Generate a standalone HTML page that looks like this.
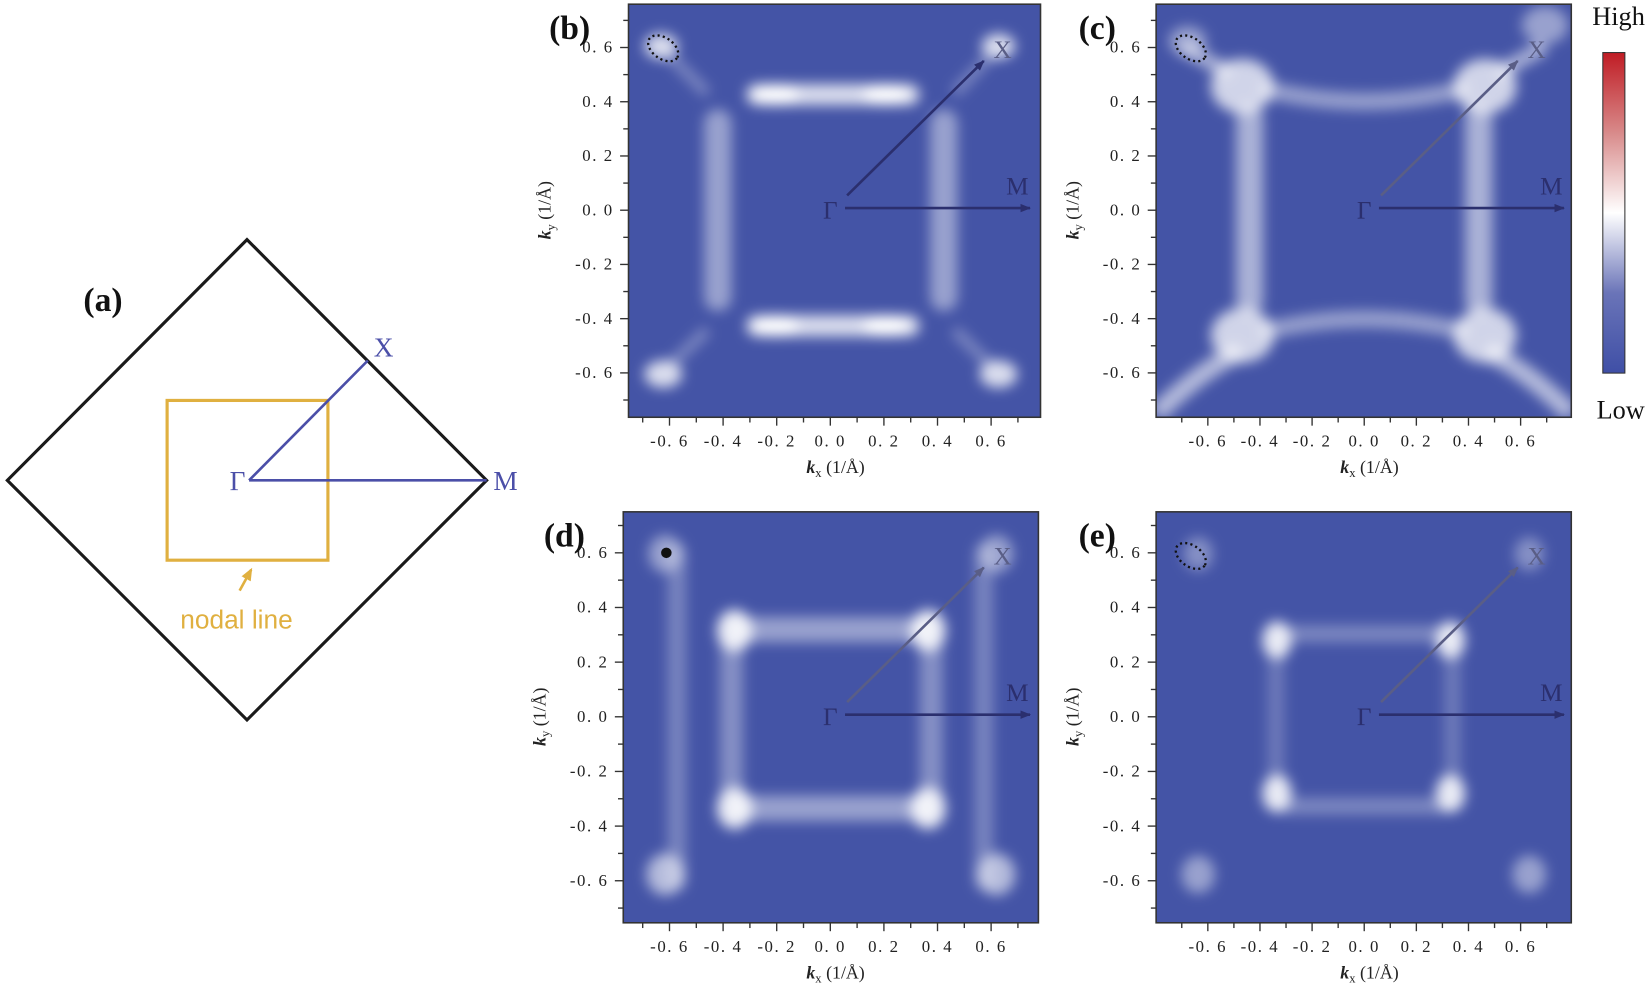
<!DOCTYPE html>
<html><head><meta charset="utf-8">
<style>html,body{margin:0;padding:0;background:#fff;}svg{display:block;}</style>
</head><body>
<svg id="s" width="1648" height="989" viewBox="0 0 1568 941" preserveAspectRatio="none" xmlns="http://www.w3.org/2000/svg" font-family="Liberation Serif, serif">
<defs>
<filter id="bl" x="-50%" y="-50%" width="200%" height="200%"><feGaussianBlur stdDeviation="6"/></filter>
<linearGradient id="cb" x1="0" y1="1" x2="0" y2="0">
<stop offset="0" stop-color="#3f4fa6"/><stop offset="0.25" stop-color="#6a74b8"/><stop offset="0.5" stop-color="#ffffff"/><stop offset="0.75" stop-color="#d88a8a"/><stop offset="1" stop-color="#c01c24"/></linearGradient>
<marker id="ah" markerWidth="10" markerHeight="8" refX="9" refY="4" orient="auto" markerUnits="userSpaceOnUse"><path d="M0,0 L10,4 L0,8 z" fill="#2b2f6e"/></marker>
<marker id="ah2" markerWidth="10" markerHeight="8" refX="9" refY="4" orient="auto" markerUnits="userSpaceOnUse"><path d="M0,0 L10,4 L0,8 z" fill="#5a5e86"/></marker>
<marker id="ag" markerWidth="12" markerHeight="10" refX="10" refY="5" orient="auto" markerUnits="userSpaceOnUse"><path d="M0,0 L12,5 L0,10 z" fill="#e0b040"/></marker>
</defs>

<g>
<polygon points="235,228 463,457 235,685 7,457" fill="none" stroke="#1a1a1a" stroke-width="3"/>
<rect x="159" y="381" width="153" height="152" fill="none" stroke="#e0b040" stroke-width="3"/>
<line x1="237" y1="457" x2="463" y2="457" stroke="#4b4fa8" stroke-width="2.5"/>
<line x1="237" y1="457" x2="350" y2="343" stroke="#4b4fa8" stroke-width="2.5"/>
<text x="226" y="466" font-size="26" fill="#4b4fa8" text-anchor="middle">Γ</text>
<text x="365" y="339" font-size="26" fill="#4b4fa8" text-anchor="middle">X</text>
<text x="481" y="466" font-size="26" fill="#4b4fa8" text-anchor="middle">M</text>
<text x="98" y="296" font-size="32" font-weight="bold" fill="#111" text-anchor="middle">(a)</text>
<line x1="228" y1="562" x2="239" y2="542" stroke="#e0b040" stroke-width="2.5" marker-end="url(#ag)"/>
<text x="225" y="598" font-size="25" fill="#e0b040" text-anchor="middle" font-family="Liberation Sans, sans-serif">nodal line</text>
</g>

<g transform="translate(598,4)"><rect width="392" height="393" fill="#4454a6"/>
<g filter="url(#bl)" fill="#fff">
<rect x="112" y="76" width="165" height="20" rx="10" opacity="0.8"/>
<rect x="112" y="296" width="165" height="20" rx="10" opacity="0.8"/>
<ellipse cx="140" cy="86" rx="22" ry="10"/><ellipse cx="245" cy="86" rx="22" ry="10"/>
<ellipse cx="140" cy="306" rx="22" ry="10"/><ellipse cx="245" cy="306" rx="22" ry="10"/>
<rect x="72" y="100" width="26" height="192" rx="13" opacity="0.45"/>
<rect x="287" y="100" width="26" height="192" rx="13" opacity="0.45"/>
<ellipse cx="31" cy="40" rx="16" ry="12" opacity="0.8"/><ellipse cx="352" cy="40" rx="16" ry="12" opacity="0.8"/>
<ellipse cx="33" cy="352" rx="18" ry="13" opacity="0.8"/><ellipse cx="352" cy="352" rx="18" ry="13" opacity="0.8"/>
<line x1="35" y1="45" x2="75" y2="85" stroke="#fff" stroke-width="10" opacity="0.3"/>
<line x1="348" y1="45" x2="310" y2="85" stroke="#fff" stroke-width="10" opacity="0.3"/>
<line x1="38" y1="345" x2="75" y2="310" stroke="#fff" stroke-width="10" opacity="0.3"/>
<line x1="346" y1="345" x2="310" y2="310" stroke="#fff" stroke-width="10" opacity="0.3"/>
</g></g>

<g transform="translate(1100,4)"><rect width="395" height="393" fill="#4454a6"/>
<g filter="url(#bl)" fill="#fff">
<rect x="76" y="95" width="26" height="200" rx="13" opacity="0.55"/>
<rect x="294" y="95" width="26" height="200" rx="13" opacity="0.55"/>
<path d="M100,80 Q198,105 296,80" stroke="#fff" stroke-width="16" fill="none" opacity="0.45"/>
<path d="M100,312 Q198,287 296,312" stroke="#fff" stroke-width="16" fill="none" opacity="0.45"/>
<ellipse cx="82" cy="78" rx="30" ry="26" opacity="0.75"/><ellipse cx="313" cy="78" rx="30" ry="26" opacity="0.75"/>
<ellipse cx="82" cy="315" rx="30" ry="26" opacity="0.75"/><ellipse cx="313" cy="315" rx="30" ry="26" opacity="0.75"/>
<path d="M0,390 Q40,350 80,330" stroke="#fff" stroke-width="18" fill="none" opacity="0.6"/>
<path d="M395,390 Q355,350 315,330" stroke="#fff" stroke-width="18" fill="none" opacity="0.6"/>
<path d="M25,40 Q50,55 70,65" stroke="#fff" stroke-width="14" fill="none" opacity="0.55"/>
<path d="M370,40 Q345,55 325,65" stroke="#fff" stroke-width="14" fill="none" opacity="0.55"/>
<ellipse cx="370" cy="20" rx="22" ry="18" opacity="0.45"/><ellipse cx="30" cy="35" rx="18" ry="14" opacity="0.45"/>
</g></g>

<g transform="translate(593,487)"><rect width="395" height="391" fill="#4454a6"/>
<g filter="url(#bl)" fill="#fff">
<rect x="104" y="100" width="190" height="24" rx="12" opacity="0.45"/>
<rect x="104" y="270" width="190" height="24" rx="12" opacity="0.45"/>
<rect x="92" y="95" width="22" height="200" rx="11" opacity="0.35"/>
<rect x="282" y="95" width="22" height="200" rx="11" opacity="0.35"/>
<rect x="42" y="30" width="18" height="330" rx="9" opacity="0.28"/>
<rect x="334" y="30" width="18" height="330" rx="9" opacity="0.28"/>
<ellipse cx="106" cy="113" rx="17" ry="20" opacity="0.85"/><ellipse cx="290" cy="113" rx="17" ry="20" opacity="0.85"/>
<ellipse cx="106" cy="282" rx="17" ry="20" opacity="0.85"/><ellipse cx="290" cy="282" rx="17" ry="20" opacity="0.85"/>
<ellipse cx="40" cy="345" rx="18" ry="20" opacity="0.6"/><ellipse cx="355" cy="345" rx="18" ry="20" opacity="0.6"/>
<ellipse cx="40" cy="40" rx="16" ry="18" opacity="0.45"/><ellipse cx="355" cy="40" rx="16" ry="18" opacity="0.45"/>
</g></g>

<g transform="translate(1100,487)"><rect width="395" height="391" fill="#4454a6"/>
<g filter="url(#bl)" fill="#fff">
<rect x="118" y="108" width="160" height="16" rx="8" opacity="0.3"/>
<rect x="118" y="272" width="160" height="16" rx="8" opacity="0.3"/>
<rect x="106" y="110" width="16" height="175" rx="8" opacity="0.22"/>
<rect x="274" y="110" width="16" height="175" rx="8" opacity="0.22"/>
<ellipse cx="115" cy="122" rx="14" ry="18" opacity="0.85"/><ellipse cx="280" cy="122" rx="14" ry="18" opacity="0.85"/>
<ellipse cx="115" cy="268" rx="14" ry="18" opacity="0.85"/><ellipse cx="280" cy="268" rx="14" ry="18" opacity="0.85"/>
<ellipse cx="40" cy="345" rx="16" ry="18" opacity="0.45"/><ellipse cx="355" cy="345" rx="16" ry="18" opacity="0.45"/>
<ellipse cx="40" cy="40" rx="14" ry="16" opacity="0.35"/><ellipse cx="355" cy="40" rx="14" ry="16" opacity="0.35"/>
</g></g>

<rect x="1525" y="50" width="21" height="305" fill="url(#cb)" stroke="#333" stroke-width="1"/>
<text x="1540" y="24" font-size="25" text-anchor="middle" fill="#111">High</text>
<text x="1542" y="398" font-size="25" text-anchor="middle" fill="#111">Low</text>
</svg>
<script>
var S=document.getElementById('s'),NS='http://www.w3.org/2000/svg';
function el(t,a,txt){var e=document.createElementNS(NS,t);for(var k in a)e.setAttribute(k,a[k]);if(txt!=null)e.textContent=txt;S.appendChild(e);return e;}
var P=[
 {x0:598,y0:4,w:392,h:393,cx:790,cy:200,sx:255,sy:258,lab:'(b)',xa:'#2b2f6e',ell:true},
 {x0:1100,y0:4,w:395,h:393,cx:1298,cy:200,sx:248,sy:258,lab:'(c)',xa:'#5a5e86',ell:true},
 {x0:593,y0:487,w:395,h:391,cx:790,cy:682,sx:255,sy:260,lab:'(d)',xa:'#5a5e86',dot:true},
 {x0:1100,y0:487,w:395,h:391,cx:1298,cy:682,sx:248,sy:260,lab:'(e)',xa:'#5a5e86',ell:true}];
P.forEach(function(p){
 var bot=p.y0+p.h, lft=p.x0;
 el('rect',{x:p.x0,y:p.y0,width:p.w,height:p.h,fill:'none',stroke:'#333','stroke-width':1.5});
 for(var i=-7;i<=7;i++){var v=i/10,maj=(i%2==0);
  var X=p.cx+v*p.sx; if(X>p.x0+2&&X<p.x0+p.w-2){el('line',{x1:X,y1:bot,x2:X,y2:bot+(maj?8:5),stroke:'#333','stroke-width':1.3});
   if(maj)el('text',{x:X,y:bot+28,'font-size':16,'text-anchor':'middle',fill:'#222','letter-spacing':'1.5'},(v<0?'-':'')+Math.abs(v).toFixed(1).replace('.','. '));}
  var Y=p.cy-v*p.sy; if(Y>p.y0+2&&Y<bot-2){el('line',{x1:lft,y1:Y,x2:lft-(maj?8:5),y2:Y,stroke:'#333','stroke-width':1.3});
   if(maj)el('text',{x:lft-14,y:Y+5,'font-size':16,'text-anchor':'end',fill:'#222','letter-spacing':'1.5'},(v<0?'-':'')+Math.abs(v).toFixed(1).replace('.','. '));}
 }
 var t=el('text',{x:p.cx+5,y:bot+53,'font-size':17,'text-anchor':'middle',fill:'#222'});t.innerHTML='<tspan font-style="italic" font-weight="bold">k</tspan><tspan font-size="12" dy="4">x</tspan><tspan dy="-4"> (1/Å)</tspan>';
 var t2=el('text',{transform:'translate('+(lft-74)+','+p.cy+') rotate(-90)','font-size':17,'text-anchor':'middle',fill:'#222'});t2.innerHTML='<tspan font-style="italic" font-weight="bold">k</tspan><tspan font-size="12" dy="4">y</tspan><tspan dy="-4"> (1/Å)</tspan>';
 el('text',{x:lft-56,y:p.y0+33,'font-size':32,'font-weight':'bold',fill:'#111','text-anchor':'middle'},p.lab);
 var gx=p.cx,gy=p.cy;
 el('text',{x:gx,y:gy+8,'font-size':24,fill:'#2b2f6e','text-anchor':'middle'},'Γ');
 el('line',{x1:gx+14,y1:gy-2,x2:gx+190,y2:gy-2,stroke:'#2b2f6e','stroke-width':2.5,'marker-end':'url(#ah)'});
 el('line',{x1:gx+16,y1:gy-14,x2:gx+146,y2:gy-142,stroke:p.xa,'stroke-width':2.5,'marker-end':p.xa=='#2b2f6e'?'url(#ah)':'url(#ah2)'});
 el('text',{x:gx+178,y:gy-15,'font-size':24,fill:'#2b2f6e','text-anchor':'middle'},'M');
 el('text',{x:gx+164,y:gy-145,'font-size':24,fill:'#5a5e86','text-anchor':'middle'},'X');
 if(p.ell)el('ellipse',{cx:p.x0+33,cy:p.y0+42,rx:16,ry:10,transform:'rotate(35 '+(p.x0+33)+' '+(p.y0+42)+')',fill:'none',stroke:'#111','stroke-width':2.2,'stroke-dasharray':'2 3'});
 if(p.dot)el('circle',{cx:p.x0+41,cy:p.y0+39,r:5,fill:'#111'});
});
</script>
</body></html>
